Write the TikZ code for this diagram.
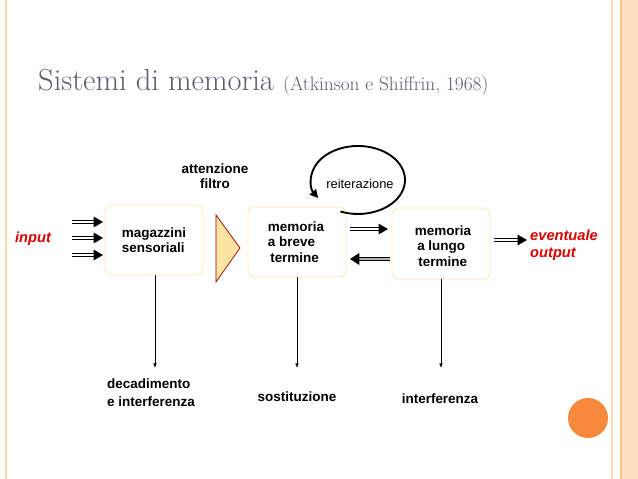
\documentclass[tikz,border=0pt]{standalone}
\usepackage{fontspec}
\newfontfamily\arial{Liberation Sans}
\usetikzlibrary{arrows.meta,shapes.geometric}
\definecolor{titlegray}{HTML}{5A5F6A}
\definecolor{dotorange}{HTML}{F7893C}
\begin{document}
\begin{tikzpicture}[x=0.03cm,y=-0.03cm,
  box/.style={draw=yellow!35!orange!25, line width=0.8pt, rounded corners=6pt, fill=white},
  lbl/.style={font=\arial\bfseries\fontsize{11.5}{13}\selectfont, align=left, inner sep=0pt},
  red/.style={font=\arial\bfseries\itshape\fontsize{12.5}{14.5}\selectfont, text=red!85!black, align=left, inner sep=0pt},
  dbl/.style={draw=black, double=white, double distance=1.4pt, line width=1.1pt, -{Triangle[length=8pt,width=9pt]}},
  down/.style={-{Latex[length=4pt]}, line width=0.5pt}]
\useasboundingbox (0,0) rectangle (638,479);
\fill[white] (0,0) rectangle (638,479);
\fill[orange!25] (622,0) rectangle (638,479);
\draw[orange!45, line width=1.2pt] (621,0) -- (621,479);
\draw[orange!30, line width=1pt] (612,0) -- (612,479);
\draw[orange!30, line width=1pt] (6,0) -- (6,479);
\fill[dotorange] (588,418) circle (20);
\node[anchor=base west, text=titlegray, inner sep=0pt] (title) at (38,91)
  {\fontsize{26}{30}\selectfont Sistemi di memoria {\fontsize{16.5}{19}\selectfont (Atkinson e Shiffrin, 1968)}};
% boxes
\draw[box] (105,205) rectangle (203,275);
\draw[box] (248,207) rectangle (346,277);
\draw[box] (392,208) rectangle (490,279);
\node[lbl] (mag) at (154,240) {magazzini\\sensoriali};
\node[lbl] (mbt) at (296,242) {memoria\\a breve\\\hspace*{2pt}termine};
\node[lbl] (mlt) at (443,246) {memoria\\\hspace*{2pt}a lungo\\\hspace*{3pt}termine};
\coordinate (magL) at (103,238); \coordinate (magB) at (155,275);
\coordinate (mbtB) at (297,277); \coordinate (mltB) at (441,279);
% filter
\draw[fill=yellow!45!orange!35, draw=red!60!black, line width=0.6pt] (216,215) -- (240,248) -- (216,282) -- cycle;
\node[lbl, align=center] (att) at (215,176) {attenzione\\filtro};
% input
\node[red] (in) at (33,239) {input};
\coordinate (i1) at (72,222); \coordinate (i2) at (72,238); \coordinate (i3) at (72,255);
\draw[dbl] (i1) -- (magL |- i1);
\draw[dbl] (i2) -- (magL);
\draw[dbl] (i3) -- (magL |- i3);
% between
\draw[dbl] (350,229) -- (388,229);
\draw[draw=black, double=gray!60, double distance=1.8pt, line width=1.1pt, -{Triangle[length=8pt,width=10pt]}] (390,259) -- (350,259);
\draw[dbl] (494,240) -- (527,240);
\node[red, anchor=west] (out) at (530,245) {eventuale\\output};
% reiterazione loop
\draw[line width=1.6pt, -{Triangle[length=7pt,width=7pt]}] (340.4,211.5) arc[start angle=112, end angle=-212, x radius=47, y radius=34];
\node[font=\arial\fontsize{11}{13}\selectfont, inner sep=1pt] (rei) at (360,184) {reiterazione};
% downs
\coordinate (d1) at (155,368); \coordinate (d2) at (297,368); \coordinate (d3) at (441,368);
\draw[down] (magB) -- (d1);
\draw[down] (mbtB) -- (d2);
\draw[down] (mltB) -- (d3);
\node[lbl, anchor=north west] (dec) at (107,378) {decadimento\\[3pt]e interferenza};
\node[lbl] (sos) at (297,397) {sostituzione};
\node[lbl] (int) at (440,399) {interferenza};
\end{tikzpicture}
\end{document}
